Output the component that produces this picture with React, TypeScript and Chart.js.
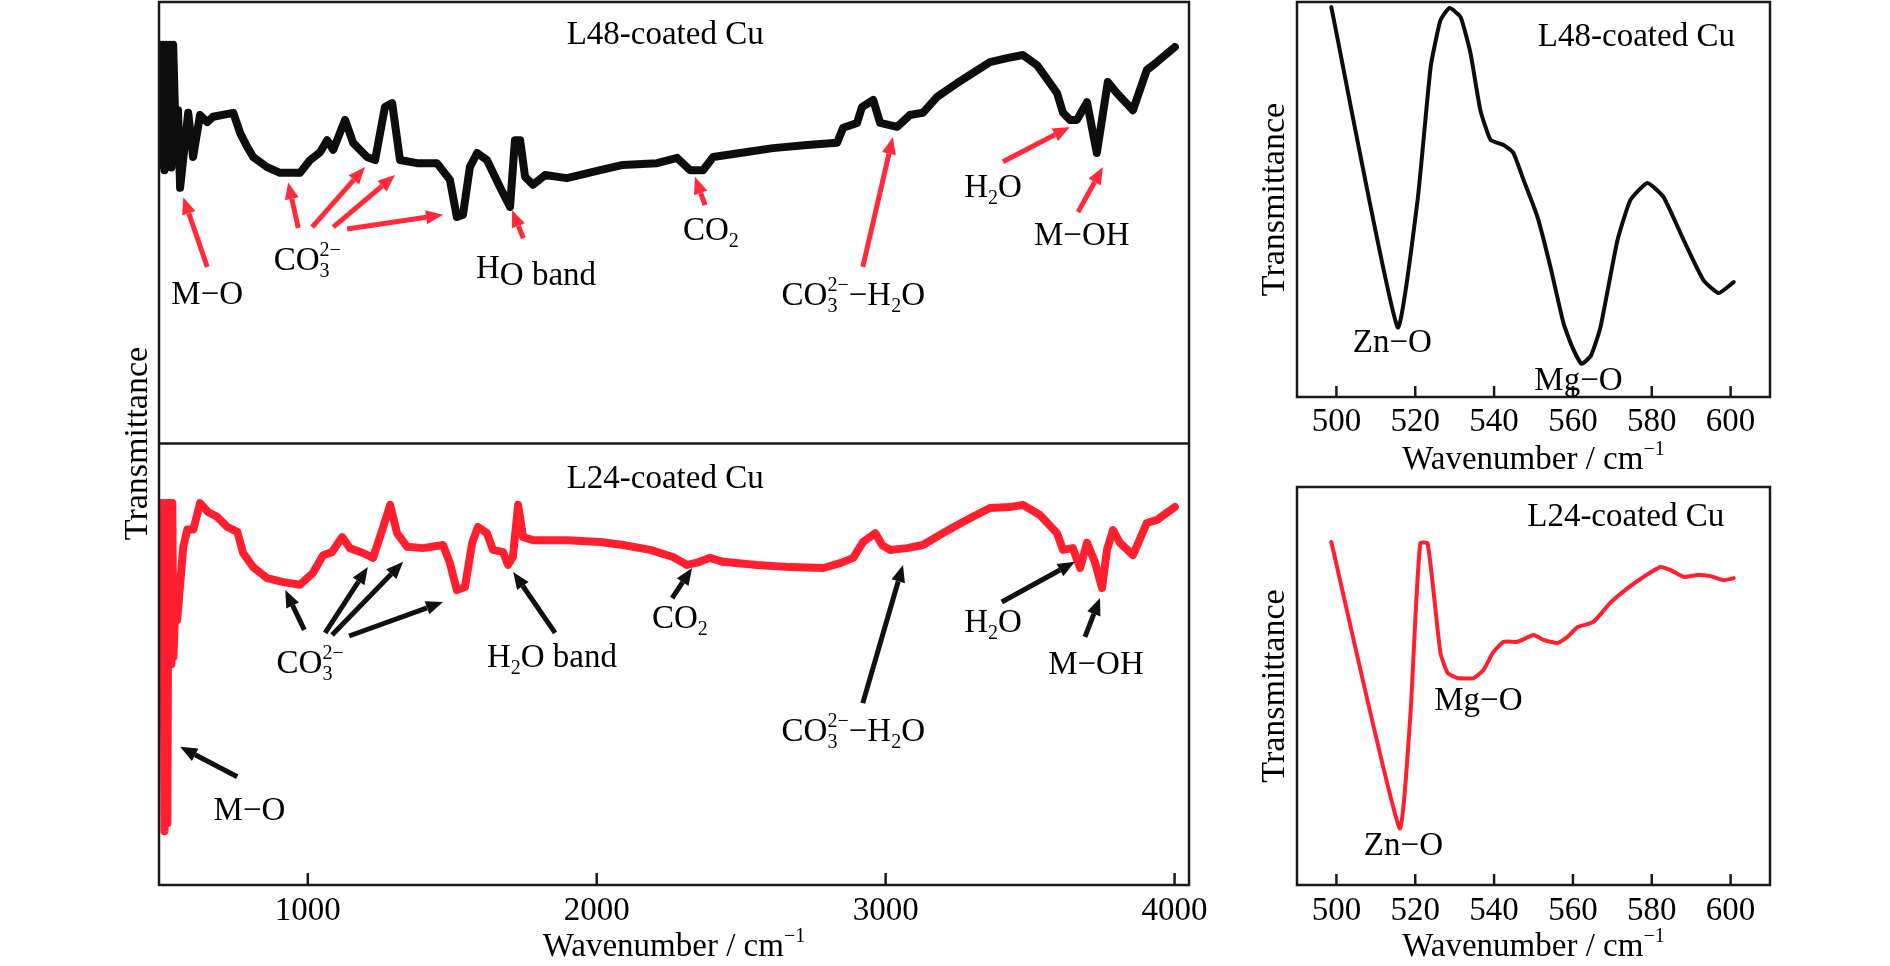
import React, { useEffect, useRef } from "react";
import { Chart, registerables } from "chart.js";

Chart.register(...registerables);

const FONT = '"Liberation Serif", "Times New Roman", serif';
const TXT = 33;

// ---------- wide-range spectra (wavenumber / cm-1, transmittance a.u.) ----------
const l48Wave = [489, 494, 499, 504, 510, 516, 523, 528, 534, 544, 551, 558, 586, 603, 627, 652, 672, 742, 766, 790, 811, 859, 904, 973, 1008, 1043, 1067, 1088, 1129, 1157, 1205, 1233, 1267, 1292, 1319, 1378, 1447, 1492, 1516, 1537, 1561, 1586, 1620, 1665, 1700, 1717, 1735, 1752, 1780, 1821, 1897, 2012, 2091, 2209, 2278, 2323, 2368, 2403, 2496, 2610, 2728, 2832, 2853, 2901, 2918, 2957, 2981, 3040, 3084, 3129, 3178, 3247, 3361, 3420, 3475, 3524, 3544, 3593, 3614, 3638, 3662, 3697, 3731, 3769, 3800, 3856, 3904, 3939, 4001];
const l48Trans = [90.3, 63.0, 90.3, 61.9, 90.3, 64.0, 90.3, 62.5, 90.3, 66.5, 75.5, 57.9, 74.9, 64.9, 74.4, 72.8, 74.0, 74.9, 70.3, 67.2, 64.9, 62.6, 61.3, 61.3, 64.2, 66.0, 68.7, 66.5, 73.3, 68.1, 64.9, 64.2, 76.2, 77.1, 64.2, 63.5, 63.5, 59.7, 51.3, 51.8, 62.6, 65.8, 64.2, 58.1, 53.6, 68.7, 68.7, 60.4, 58.6, 60.8, 60.1, 61.9, 63.1, 63.5, 64.7, 61.9, 61.9, 64.9, 65.8, 66.9, 67.6, 68.1, 71.5, 72.6, 76.2, 77.8, 72.6, 71.7, 74.4, 74.9, 78.5, 81.6, 86.4, 87.3, 88.0, 85.7, 83.9, 79.4, 74.9, 73.3, 73.3, 77.3, 65.8, 81.9, 79.4, 75.5, 84.6, 86.4, 89.8];

const l24Wave = [489, 494, 499, 504, 507, 510, 514, 518, 521, 525, 528, 531, 535, 541, 548, 569, 583, 604, 627, 655, 686, 721, 756, 776, 811, 859, 915, 973, 1018, 1053, 1084, 1119, 1146, 1191, 1226, 1261, 1285, 1309, 1344, 1399, 1468, 1492, 1516, 1544, 1569, 1589, 1620, 1641, 1676, 1693, 1710, 1728, 1745, 1780, 1897, 2012, 2091, 2185, 2264, 2313, 2347, 2392, 2437, 2555, 2669, 2784, 2843, 2888, 2922, 2964, 2988, 3015, 3074, 3129, 3188, 3247, 3302, 3361, 3430, 3475, 3534, 3593, 3614, 3648, 3673, 3697, 3724, 3749, 3766, 3787, 3811, 3856, 3904, 3939, 4001];
const l24Trans = [86.5, 50.0, 86.5, 12.2, 40.0, 86.5, 14.0, 86.5, 52.0, 86.5, 50.0, 86.5, 51.6, 62.0, 60.0, 76.6, 80.5, 80.5, 86.5, 84.5, 83.4, 81.1, 80.0, 75.2, 72.0, 69.5, 68.6, 68.0, 70.7, 74.7, 75.4, 78.8, 76.3, 75.2, 74.1, 81.1, 86.1, 79.7, 76.6, 76.3, 77.0, 72.9, 66.8, 67.5, 77.5, 81.1, 79.7, 75.9, 75.4, 72.5, 74.3, 86.1, 78.8, 78.1, 78.1, 77.7, 77.0, 75.9, 74.3, 72.5, 73.0, 74.1, 73.2, 72.5, 72.0, 71.8, 72.9, 74.1, 77.7, 79.7, 77.0, 75.9, 76.3, 77.0, 79.3, 81.5, 83.4, 85.4, 85.6, 86.1, 83.8, 79.7, 75.9, 76.3, 71.8, 77.5, 73.2, 67.3, 75.9, 80.4, 77.5, 74.7, 82.0, 82.7, 85.6];

// ---------- zoomed spectra 490-610 cm-1 ----------
const l48ZoomWave = [498.7, 515.5, 520.6, 523.9, 526.4, 528.7, 531.5, 534.0, 536.5, 539.1, 542.4, 544.9, 547.5, 551.0, 554.3, 557.6, 559.9, 562.2, 564.6, 567.0, 571.3, 574.6, 578.9, 583.0, 588.1, 593.1, 597.0, 600.8];
const l48ZoomTrans = [98.7, 17.7, 49.9, 83.5, 95.4, 98.5, 96.2, 87.1, 72.7, 65.1, 63.8, 61.8, 54.9, 45.6, 32.9, 18.7, 12.5, 8.4, 10.5, 17.7, 39.7, 49.9, 54.2, 50.6, 39.7, 29.6, 26.3, 29.1];

const l24ZoomWave = [498.7, 516.0, 518.8, 520.1, 521.3, 523.1, 524.6, 526.4, 528.2, 530.7, 534.8, 537.3, 539.8, 542.4, 545.9, 550.0, 552.5, 556.1, 558.6, 561.2, 565.2, 569.5, 573.9, 577.9, 582.2, 584.8, 588.1, 591.6, 594.9, 598.2, 600.8];
const l24ZoomTrans = [86.2, 14.3, 43.2, 68.3, 85.9, 85.9, 74.1, 58.3, 53.3, 52.0, 52.0, 54.0, 58.5, 61.1, 61.1, 62.8, 61.6, 60.8, 62.3, 64.8, 66.1, 70.9, 74.6, 77.4, 79.9, 79.1, 77.4, 77.9, 77.6, 76.6, 77.1];

// ---------- axes ----------
const wideTicks = [1000, 2000, 3000, 4000];
const zoomTicks = [500, 520, 540, 560, 580, 600];
const wideRange = [485, 4050];
const zoomRange = [490, 610];

// ---------- annotations (data coordinates) ----------
const l48Labels = [
  { text: "L48-coated Cu", x: 2237, y: 92.9 },
  { text: "M−O", x: 652, y: 34.1 },
  { text: "CO_{3}^{2−}", x: 998, y: 41.8 },
  { text: "H~{O band}", x: 1790, y: 40.0 },
  { text: "CO_{2}", x: 2395, y: 48.6 },
  { text: "CO_{3}^{2−}−H_{2}O", x: 2888, y: 33.9 },
  { text: "H_{2}O", x: 3372, y: 58.3 },
  { text: "M−OH", x: 3679, y: 47.5 },
];
const l48Arrows = [
  [652, 40.0, 569, 55.8],
  [967, 48.8, 932, 59.2],
  [1015, 49.0, 1198, 62.6],
  [1088, 49.0, 1302, 60.8],
  [1136, 48.6, 1468, 51.8],
  [1746, 46.5, 1707, 52.9],
  [2375, 54.0, 2340, 60.4],
  [2921, 40.0, 3025, 69.4],
  [3406, 63.8, 3638, 71.7],
  [3666, 52.4, 3752, 62.6],
];
const l24Labels = [
  { text: "L24-coated Cu", x: 2237, y: 92.3 },
  { text: "M−O", x: 798, y: 17.2 },
  { text: "CO_{3}^{2−}", x: 1008, y: 50.5 },
  { text: "H_{2}O band", x: 1845, y: 51.9 },
  { text: "CO_{2}", x: 2288, y: 60.7 },
  { text: "CO_{3}^{2−}−H_{2}O", x: 2888, y: 35.1 },
  { text: "H_{2}O", x: 3372, y: 59.8 },
  { text: "M−OH", x: 3728, y: 50.3 },
];
const l24Arrows = [
  [756, 24.5, 558, 31.3],
  [988, 57.8, 922, 66.8],
  [1060, 57.1, 1208, 72.0],
  [1084, 56.6, 1330, 73.2],
  [1143, 56.4, 1468, 64.1],
  [1856, 57.1, 1711, 70.9],
  [2261, 65.0, 2330, 71.8],
  [2921, 41.2, 3060, 72.5],
  [3402, 64.1, 3655, 73.2],
  [3690, 56.2, 3742, 65.0],
];
const zoom48Labels = [
  { text: "L48-coated Cu", x: 576.1, y: 91.6 },
  { text: "Zn−O", x: 514.2, y: 14.2 },
  { text: "Mg−O", x: 561.4, y: 4.6 },
];
const zoom24Labels = [
  { text: "L24-coated Cu", x: 573.4, y: 93.0 },
  { text: "Mg−O", x: 536.0, y: 46.7 },
  { text: "Zn−O", x: 517.0, y: 10.3 },
];

const RED = "#ff1f2e";
const RED_ARROW = "#ff2b3b";
const BLACK = "#0d0d0d";

// ---------- rich text helpers ----------
function parseRich(s) {
  const toks = [];
  let buf = "";
  let i = 0;
  while (i < s.length) {
    const c = s[i];
    if ((c === "_" || c === "^" || c === "~") && s[i + 1] === "{") {
      const end = s.indexOf("}", i + 2);
      const content = s.slice(i + 2, end);
      if (buf) {
        toks.push({ t: buf });
        buf = "";
      }
      if (c === "~") {
        toks.push({ t: content, low: true });
      } else {
        const last = toks[toks.length - 1];
        if (last && last.t === "") {
          if (c === "_") last.sub = content;
          else last.sup = content;
        } else {
          toks.push({ t: "", sub: c === "_" ? content : undefined, sup: c === "^" ? content : undefined });
        }
      }
      i = end + 1;
    } else {
      buf += c;
      i++;
    }
  }
  if (buf) toks.push({ t: buf });
  return toks;
}

function drawRich(ctx, s, cx, cy, size, color) {
  const toks = parseRich(s);
  const big = `${size}px ${FONT}`;
  const small = `${Math.round(size * 0.62)}px ${FONT}`;
  const widths = toks.map((tk) => {
    if (tk.t) {
      ctx.font = big;
      return ctx.measureText(tk.t).width;
    }
    ctx.font = small;
    return Math.max(tk.sub ? ctx.measureText(tk.sub).width : 0, tk.sup ? ctx.measureText(tk.sup).width : 0);
  });
  const total = widths.reduce((a, b) => a + b, 0);
  ctx.save();
  ctx.fillStyle = color;
  ctx.textBaseline = "alphabetic";
  ctx.textAlign = "left";
  let x = cx - total / 2;
  const base = cy + size * 0.33;
  toks.forEach((tk, k) => {
    if (tk.t) {
      ctx.font = big;
      ctx.fillText(tk.t, x, tk.low ? base + size * 0.22 : base);
    } else {
      ctx.font = small;
      if (tk.sub) ctx.fillText(tk.sub, x, base + size * 0.22);
      if (tk.sup) ctx.fillText(tk.sup, x, base - size * 0.42);
    }
    x += widths[k];
  });
  ctx.restore();
}

function drawArrow(ctx, x1, y1, x2, y2, color) {
  const ang = Math.atan2(y2 - y1, x2 - x1);
  const hl = 17;
  const hw = 7;
  const bx = x2 - hl * Math.cos(ang);
  const by = y2 - hl * Math.sin(ang);
  ctx.save();
  ctx.strokeStyle = color;
  ctx.fillStyle = color;
  ctx.lineWidth = 5;
  ctx.lineCap = "butt";
  ctx.beginPath();
  ctx.moveTo(x1, y1);
  ctx.lineTo(bx, by);
  ctx.stroke();
  ctx.beginPath();
  ctx.moveTo(x2, y2);
  ctx.lineTo(bx + hw * Math.sin(ang), by - hw * Math.cos(ang));
  ctx.lineTo(bx - hw * Math.sin(ang), by + hw * Math.cos(ang));
  ctx.closePath();
  ctx.fill();
  ctx.restore();
}

function makeDeco(d) {
  return {
    id: "deco",
    afterDraw(chart) {
      const { ctx, chartArea: a, scales } = chart;
      const xs = scales.x;
      ctx.save();
      ctx.strokeStyle = "#1a1a1a";
      ctx.lineWidth = 2.5;
      ctx.strokeRect(a.left, a.top, a.right - a.left, a.bottom - a.top);
      if (d.divider) {
        const yy = scales[d.divider.axis].getPixelForValue(d.divider.value);
        ctx.beginPath();
        ctx.moveTo(a.left, yy);
        ctx.lineTo(a.right, yy);
        ctx.stroke();
      }
      xs.ticks.forEach((t) => {
        const px = xs.getPixelForValue(t.value);
        ctx.beginPath();
        ctx.moveTo(px, a.bottom);
        ctx.lineTo(px, a.bottom - d.tickLen);
        ctx.stroke();
      });
      d.arrows.forEach((g) => {
        g.list.forEach((r) => {
          const ys = scales[g.axis];
          drawArrow(ctx, xs.getPixelForValue(r[0]), ys.getPixelForValue(r[1]), xs.getPixelForValue(r[2]), ys.getPixelForValue(r[3]), g.color);
        });
      });
      d.labels.forEach((g) => {
        const ys = scales[g.axis];
        g.list.forEach((l) => {
          drawRich(ctx, l.text, xs.getPixelForValue(l.x), ys.getPixelForValue(l.y), TXT, "#000");
        });
      });
      drawRich(ctx, "Wavenumber / cm^{−1}", (a.left + a.right) / 2, a.bottom + d.xTitleGap, TXT, "#000");
      ctx.translate(a.left - d.yTitleGap, (a.top + a.bottom) / 2);
      ctx.rotate(-Math.PI / 2);
      drawRich(ctx, "Transmittance", 0, 0, 34, "#000");
      ctx.restore();
    },
  };
}

function xAxis(range, ticks, height, pad) {
  return {
    type: "linear",
    min: range[0],
    max: range[1],
    grid: { display: false, drawTicks: false },
    border: { display: false },
    ticks: {
      color: "#000",
      font: { family: FONT, size: TXT },
      padding: pad,
      maxRotation: 0,
      autoSkip: false,
      callback: (v) => String(v),
    },
    afterBuildTicks: (s) => {
      s.ticks = ticks.map((v) => ({ value: v }));
    },
    afterFit: (s) => {
      s.height = height;
    },
  };
}

function series(xs, ys, color, width, axis, tension) {
  return {
    data: xs.map((x, i) => ({ x, y: ys[i] })),
    borderColor: color,
    backgroundColor: color,
    borderWidth: width,
    pointRadius: 0,
    tension: tension,
    fill: false,
    borderJoinStyle: "round",
    borderCapStyle: "round",
    yAxisID: axis,
  };
}

const baseOpts = {
  animation: false,
  responsive: false,
  maintainAspectRatio: false,
  events: [],
  plugins: { legend: { display: false }, tooltip: { enabled: false } },
};

export default function App() {
  const refA = useRef(null);
  const refB = useRef(null);
  const refC = useRef(null);

  useEffect(() => {
    const chartA = new Chart(refA.current, {
      type: "line",
      data: {
        datasets: [series(l48Wave, l48Trans, BLACK, 8, "yTop", 0), series(l24Wave, l24Trans, RED, 8, "yBot", 0)],
      },
      options: {
        ...baseOpts,
        layout: { padding: { left: 159, right: 51, top: 2, bottom: 0 } },
        scales: {
          x: xAxis(wideRange, wideTicks, 81, 7),
          yTop: { type: "linear", min: -100, max: 100, display: false },
          yBot: { type: "linear", min: 0, max: 200, display: false },
        },
      },
      plugins: [
        makeDeco({
          tickLen: 12,
          xTitleGap: 60,
          yTitleGap: 23,
          divider: { axis: "yTop", value: 0 },
          arrows: [
            { axis: "yTop", color: RED_ARROW, list: l48Arrows },
            { axis: "yBot", color: "#111", list: l24Arrows },
          ],
          labels: [
            { axis: "yTop", list: l48Labels },
            { axis: "yBot", list: l24Labels },
          ],
        }),
      ],
    });

    const chartB = new Chart(refB.current, {
      type: "line",
      data: { datasets: [series(l48ZoomWave, l48ZoomTrans, BLACK, 4, "y", 0.15)] },
      options: {
        ...baseOpts,
        layout: { padding: { left: 57, right: 120, top: 2, bottom: 0 } },
        scales: {
          x: xAxis(zoomRange, zoomTicks, 87, 6),
          y: { type: "linear", min: 0, max: 100, display: false },
        },
      },
      plugins: [
        makeDeco({
          tickLen: 11,
          xTitleGap: 61,
          yTitleGap: 24,
          arrows: [],
          labels: [{ axis: "y", list: zoom48Labels }],
        }),
      ],
    });

    const chartC = new Chart(refC.current, {
      type: "line",
      data: { datasets: [series(l24ZoomWave, l24ZoomTrans, RED, 4, "y", 0.15)] },
      options: {
        ...baseOpts,
        layout: { padding: { left: 57, right: 120, top: 3, bottom: 0 } },
        scales: {
          x: xAxis(zoomRange, zoomTicks, 81, 7),
          y: { type: "linear", min: 0, max: 100, display: false },
        },
      },
      plugins: [
        makeDeco({
          tickLen: 11,
          xTitleGap: 60,
          yTitleGap: 24,
          arrows: [],
          labels: [{ axis: "y", list: zoom24Labels }],
        }),
      ],
    });

    return () => {
      chartA.destroy();
      chartB.destroy();
      chartC.destroy();
    };
  }, []);

  return (
    <div style={{ position: "absolute", left: 0, top: 0, width: 1890, height: 966, background: "#fff", overflow: "hidden" }}>
      <canvas ref={refA} width={1240} height={966} style={{ position: "absolute", left: 0, top: 0, width: 1240, height: 966 }} />
      <canvas ref={refB} width={650} height={484} style={{ position: "absolute", left: 1240, top: 0, width: 650, height: 484 }} />
      <canvas ref={refC} width={650} height={482} style={{ position: "absolute", left: 1240, top: 484, width: 650, height: 482 }} />
    </div>
  );
}
